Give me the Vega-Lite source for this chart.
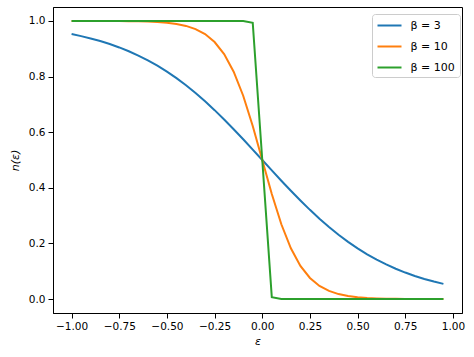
{
  "$schema": "https://vega.github.io/schema/vega-lite/v6.json",
  "width": 409,
  "height": 306,
  "autosize": "none",
  "padding": {"left": 53, "top": 7, "right": 12, "bottom": 44},
  "background": "white",
  "config": {
    "font": "DejaVu Sans",
    "view": {"stroke": "black", "strokeWidth": 1},
    "axis": {
      "grid": false,
      "domainColor": "black",
      "tickColor": "black",
      "tickSize": 5,
      "labelColor": "black",
      "labelFontSize": 10.5,
      "titleFontSize": 11,
      "titleFontWeight": "normal",
      "titleColor": "black",
      "labelPadding": 3
    }
  },
  "data": {
    "values": [
      {"eps": -1.00, "β = 3": 0.95257, "β = 10": 0.99995, "β = 100": 1.0},
      {"eps": -0.95, "β = 3": 0.94532, "β = 10": 0.99993, "β = 100": 1.0},
      {"eps": -0.90, "β = 3": 0.93702, "β = 10": 0.99988, "β = 100": 1.0},
      {"eps": -0.85, "β = 3": 0.92758, "β = 10": 0.99980, "β = 100": 1.0},
      {"eps": -0.80, "β = 3": 0.91683, "β = 10": 0.99966, "β = 100": 1.0},
      {"eps": -0.75, "β = 3": 0.90465, "β = 10": 0.99945, "β = 100": 1.0},
      {"eps": -0.70, "β = 3": 0.89090, "β = 10": 0.99909, "β = 100": 1.0},
      {"eps": -0.65, "β = 3": 0.87545, "β = 10": 0.99850, "β = 100": 1.0},
      {"eps": -0.60, "β = 3": 0.85815, "β = 10": 0.99753, "β = 100": 1.0},
      {"eps": -0.55, "β = 3": 0.83889, "β = 10": 0.99593, "β = 100": 1.0},
      {"eps": -0.50, "β = 3": 0.81757, "β = 10": 0.99331, "β = 100": 1.0},
      {"eps": -0.45, "β = 3": 0.79412, "β = 10": 0.98901, "β = 100": 1.0},
      {"eps": -0.40, "β = 3": 0.76852, "β = 10": 0.98201, "β = 100": 1.0},
      {"eps": -0.35, "β = 3": 0.74077, "β = 10": 0.97069, "β = 100": 1.0},
      {"eps": -0.30, "β = 3": 0.71095, "β = 10": 0.95257, "β = 100": 1.0},
      {"eps": -0.25, "β = 3": 0.67918, "β = 10": 0.92414, "β = 100": 1.0},
      {"eps": -0.20, "β = 3": 0.64566, "β = 10": 0.88080, "β = 100": 1.0},
      {"eps": -0.15, "β = 3": 0.61064, "β = 10": 0.81757, "β = 100": 1.0},
      {"eps": -0.10, "β = 3": 0.57444, "β = 10": 0.73106, "β = 100": 0.99995},
      {"eps": -0.05, "β = 3": 0.53743, "β = 10": 0.62246, "β = 100": 0.99331},
      {"eps": 0.00, "β = 3": 0.50000, "β = 10": 0.50000, "β = 100": 0.5},
      {"eps": 0.05, "β = 3": 0.46257, "β = 10": 0.37754, "β = 100": 0.00669},
      {"eps": 0.10, "β = 3": 0.42556, "β = 10": 0.26894, "β = 100": 0.00005},
      {"eps": 0.15, "β = 3": 0.38936, "β = 10": 0.18243, "β = 100": 0.0},
      {"eps": 0.20, "β = 3": 0.35434, "β = 10": 0.11920, "β = 100": 0.0},
      {"eps": 0.25, "β = 3": 0.32082, "β = 10": 0.07586, "β = 100": 0.0},
      {"eps": 0.30, "β = 3": 0.28905, "β = 10": 0.04743, "β = 100": 0.0},
      {"eps": 0.35, "β = 3": 0.25923, "β = 10": 0.02931, "β = 100": 0.0},
      {"eps": 0.40, "β = 3": 0.23148, "β = 10": 0.01799, "β = 100": 0.0},
      {"eps": 0.45, "β = 3": 0.20588, "β = 10": 0.01099, "β = 100": 0.0},
      {"eps": 0.50, "β = 3": 0.18243, "β = 10": 0.00669, "β = 100": 0.0},
      {"eps": 0.55, "β = 3": 0.16111, "β = 10": 0.00407, "β = 100": 0.0},
      {"eps": 0.60, "β = 3": 0.14185, "β = 10": 0.00247, "β = 100": 0.0},
      {"eps": 0.65, "β = 3": 0.12455, "β = 10": 0.00150, "β = 100": 0.0},
      {"eps": 0.70, "β = 3": 0.10910, "β = 10": 0.00091, "β = 100": 0.0},
      {"eps": 0.75, "β = 3": 0.09535, "β = 10": 0.00055, "β = 100": 0.0},
      {"eps": 0.80, "β = 3": 0.08317, "β = 10": 0.00034, "β = 100": 0.0},
      {"eps": 0.85, "β = 3": 0.07242, "β = 10": 0.00020, "β = 100": 0.0},
      {"eps": 0.90, "β = 3": 0.06298, "β = 10": 0.00012, "β = 100": 0.0},
      {"eps": 0.95, "β = 3": 0.05468, "β = 10": 0.00008, "β = 100": 0.0}
    ]
  },
  "transform": [
    {"fold": ["β = 3", "β = 10", "β = 100"], "as": ["beta", "n"]}
  ],
  "mark": {"type": "line", "strokeWidth": 2},
  "encoding": {
    "x": {
      "field": "eps",
      "type": "quantitative",
      "scale": {"domain": [-1.0975, 1.0475], "nice": false, "zero": false},
      "axis": {"title": "ε", "titleFontStyle": "italic", "values": [-1, -0.75, -0.5, -0.25, 0, 0.25, 0.5, 0.75, 1], "format": ".2f", "titlePadding": 4}
    },
    "y": {
      "field": "n",
      "type": "quantitative",
      "scale": {"domain": [-0.05, 1.05], "nice": false, "zero": false},
      "axis": {"title": "n(ε)", "titleFontStyle": "italic", "values": [0, 0.2, 0.4, 0.6, 0.8, 1.0], "format": ".1f", "titlePadding": 8}
    },
    "color": {
      "field": "beta",
      "type": "nominal",
      "sort": ["β = 3", "β = 10", "β = 100"],
      "scale": {"domain": ["β = 3", "β = 10", "β = 100"], "range": ["#1f77b4", "#ff7f0e", "#2ca02c"]},
      "legend": {
        "title": null,
        "orient": "none",
        "legendX": 319,
        "legendY": 7,
        "symbolType": "M-1,0H3",
        "symbolStrokeWidth": 2,
        "symbolSize": 144,
        "symbolFillColor": "transparent",
        "labelFontSize": 11,
        "labelColor": "black",
        "labelOffset": 20,
        "rowPadding": 9,
        "padding": 4.5,
        "strokeColor": "#cccccc",
        "fillColor": "white",
        "cornerRadius": 3
      }
    }
  }
}
